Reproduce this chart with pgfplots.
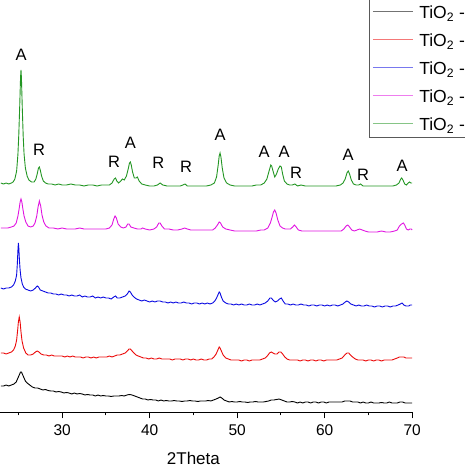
\documentclass[border=0pt]{standalone}
\usepackage{fontspec}
\setmainfont{Liberation Sans}
\usepackage{pgfplots}
\usepackage{pgfplotstable}
\pgfplotsset{compat=1.18}

\definecolor{xrdred}{RGB}{235,10,10}
\definecolor{xrdblue}{RGB}{10,10,225}
\definecolor{xrdmag}{RGB}{225,20,225}
\definecolor{xrdgreen}{RGB}{35,150,35}

% XRD patterns, stacked with a vertical offset (arbitrary intensity units)
\pgfplotstableread[row sep=\\]{x y\\
23.0 26\\ 23.3 26\\ 23.6 27\\ 23.9 26\\ 24.2 27\\ 24.5 28\\ 24.75 30\\ 24.95 34\\ 25.1 37\\ 25.25 40\\ 25.35 40\\ 25.45 38\\ 25.6 35\\ 25.8 31\\ 26.0 29\\ 26.3 27\\ 26.6 25\\ 26.9 24\\ 27.2 24\\ 27.5 23\\ 27.8 22\\ 28.1 22.5\\ 28.4 21.5\\ 28.7 21\\ 29.0 21\\ 29.3 20\\ 29.6 20.5\\ 29.9 20\\ 30.2 19\\ 30.5 19.5\\ 30.8 19\\ 31.1 18\\ 31.4 19\\ 31.7 18\\ 32.0 18.5\\ 32.3 18\\ 32.6 17\\ 32.9 17.5\\ 33.2 17\\ 33.5 17\\ 33.8 16\\ 34.1 17\\ 34.4 16\\ 34.7 16.5\\ 35.0 16\\ 35.3 16\\ 35.6 15.5\\ 35.9 16\\ 36.2 16\\ 36.5 16\\ 36.8 16.5\\ 37.1 16\\ 37.4 17\\ 37.7 17.5\\ 38.0 17\\ 38.3 16\\ 38.6 15\\ 38.9 14\\ 39.2 13\\ 39.5 13\\ 39.8 12\\ 40.1 12.5\\ 40.4 12\\ 40.7 12\\ 41.0 11\\ 41.3 12\\ 41.6 11\\ 41.9 11.5\\ 42.2 11\\ 42.5 11\\ 42.8 11.5\\ 43.1 11\\ 43.4 11\\ 43.7 10.5\\ 44.0 11\\ 44.3 11\\ 44.6 11.5\\ 44.9 11\\ 45.2 11\\ 45.5 10.5\\ 45.8 11\\ 46.1 11\\ 46.4 11\\ 46.7 11.5\\ 47.0 11\\ 47.3 12\\ 47.6 13\\ 47.85 14\\ 48.05 15\\ 48.25 14\\ 48.5 12\\ 48.8 11\\ 49.1 10\\ 49.4 10.5\\ 49.7 10\\ 50.0 10\\ 50.3 10.5\\ 50.6 10\\ 50.9 10\\ 51.2 9.5\\ 51.5 10\\ 51.8 10\\ 52.1 10.5\\ 52.4 10\\ 52.7 10\\ 53.0 10\\ 53.3 10.5\\ 53.6 11\\ 53.9 12\\ 54.2 12\\ 54.5 12.5\\ 54.8 13\\ 55.1 12\\ 55.4 11\\ 55.7 10\\ 56.0 10\\ 56.3 10.5\\ 56.6 10\\ 56.9 9\\ 57.2 10\\ 57.5 9\\ 57.8 10\\ 58.1 10\\ 58.4 9\\ 58.7 10\\ 59.0 10\\ 59.3 9\\ 59.6 10\\ 59.9 10\\ 60.2 9\\ 60.5 10\\ 60.8 10\\ 61.1 10\\ 61.4 10\\ 61.7 10\\ 62.0 10\\ 62.3 11\\ 62.6 11\\ 62.9 11\\ 63.2 10\\ 63.5 10\\ 63.8 10\\ 64.1 9\\ 64.4 10\\ 64.7 9\\ 65.0 9\\ 65.3 10\\ 65.6 9\\ 65.9 9\\ 66.2 9\\ 66.5 9.5\\ 66.8 9\\ 67.1 9\\ 67.4 10\\ 67.7 9\\ 68.0 9\\ 68.3 9\\ 68.6 10\\ 68.9 10\\ 69.2 9\\ 69.5 9\\ 69.8 9\\ 70.0 9\\
}\patA

\pgfplotstableread[row sep=\\]{x y\\
23.0 59\\ 23.3 59\\ 23.6 58\\ 23.9 59\\ 24.2 60\\ 24.45 62\\ 24.65 66\\ 24.8 72\\ 24.92 82\\ 25.0 90\\ 25.1 95\\ 25.2 90\\ 25.3 80\\ 25.42 71\\ 25.6 64\\ 25.85 59\\ 26.1 57\\ 26.4 57\\ 26.7 58\\ 26.95 60\\ 27.15 61\\ 27.35 60\\ 27.6 58\\ 27.9 57\\ 28.2 57\\ 28.5 56\\ 28.8 57\\ 29.1 56\\ 29.4 56\\ 29.7 56\\ 30.0 56\\ 30.3 55\\ 30.6 56\\ 30.9 55\\ 31.2 56\\ 31.5 55\\ 31.8 55\\ 32.1 55\\ 32.4 54\\ 32.7 55\\ 33.0 55\\ 33.3 54\\ 33.6 55\\ 33.9 54\\ 34.2 55\\ 34.5 55\\ 34.8 55\\ 35.1 55\\ 35.4 56\\ 35.7 55\\ 36.0 56\\ 36.3 57\\ 36.6 57\\ 36.9 58\\ 37.2 59\\ 37.45 61\\ 37.65 63\\ 37.8 63\\ 38.0 61\\ 38.2 59\\ 38.45 57\\ 38.7 56\\ 39.0 55\\ 39.3 54\\ 39.6 54\\ 39.9 53\\ 40.2 54\\ 40.5 53\\ 40.8 53\\ 41.1 54\\ 41.4 53\\ 41.7 53\\ 42.0 53\\ 42.3 53\\ 42.6 52\\ 42.9 53\\ 43.2 53\\ 43.5 53\\ 43.8 52\\ 44.1 53\\ 44.4 53\\ 44.7 52\\ 45.0 53\\ 45.3 52\\ 45.6 52\\ 45.9 53\\ 46.2 52\\ 46.5 52\\ 46.8 53\\ 47.1 53\\ 47.35 55\\ 47.6 58\\ 47.8 62\\ 47.95 65\\ 48.05 64\\ 48.2 61\\ 48.4 57\\ 48.7 54\\ 49.0 53\\ 49.3 52\\ 49.6 52\\ 49.9 52\\ 50.2 52\\ 50.5 51\\ 50.8 52\\ 51.1 52\\ 51.4 51\\ 51.7 52\\ 52.0 52\\ 52.3 52\\ 52.6 52\\ 52.9 53\\ 53.2 54\\ 53.45 56\\ 53.7 59\\ 53.9 60\\ 54.1 59\\ 54.3 58\\ 54.55 58\\ 54.8 60\\ 55.0 60\\ 55.2 58\\ 55.45 55\\ 55.7 53\\ 56.0 52\\ 56.3 52\\ 56.6 52\\ 56.9 52\\ 57.2 51\\ 57.5 52\\ 57.8 52\\ 58.1 51\\ 58.4 52\\ 58.7 52\\ 59.0 51\\ 59.3 52\\ 59.6 52\\ 59.9 51\\ 60.2 52\\ 60.5 52\\ 60.8 52\\ 61.1 52\\ 61.4 52\\ 61.7 53\\ 62.0 54\\ 62.3 57\\ 62.55 59\\ 62.75 59\\ 62.95 57\\ 63.2 55\\ 63.5 53\\ 63.8 52\\ 64.1 52\\ 64.4 52\\ 64.7 51\\ 65.0 52\\ 65.3 52\\ 65.6 51\\ 65.9 52\\ 66.2 52\\ 66.5 51\\ 66.8 52\\ 67.1 52\\ 67.4 52\\ 67.7 52\\ 68.0 53\\ 68.3 54\\ 68.55 55\\ 68.8 55\\ 69.05 55\\ 69.3 54\\ 69.6 54\\ 69.8 54\\ 70.0 54\\
}\patB

\pgfplotstableread[row sep=\\]{x y\\
23.0 124\\ 23.3 123\\ 23.6 124\\ 23.9 124\\ 24.2 125\\ 24.45 127\\ 24.65 131\\ 24.8 137\\ 24.88 148\\ 24.95 162\\ 25.0 169\\ 25.05 164\\ 25.12 152\\ 25.2 142\\ 25.3 134\\ 25.45 128\\ 25.6 125\\ 25.8 123\\ 26.1 122\\ 26.4 121\\ 26.7 122\\ 26.95 124\\ 27.15 126\\ 27.3 125\\ 27.5 122\\ 27.8 121\\ 28.1 120\\ 28.4 119\\ 28.7 119\\ 29.0 118\\ 29.3 118\\ 29.6 117\\ 29.9 118\\ 30.2 117\\ 30.5 117\\ 30.8 116\\ 31.1 117\\ 31.4 116\\ 31.7 116\\ 32.0 117\\ 32.3 115\\ 32.6 116\\ 32.9 115\\ 33.2 115\\ 33.5 116\\ 33.8 114\\ 34.1 115\\ 34.4 114\\ 34.7 115\\ 35.0 114\\ 35.3 114\\ 35.6 113\\ 35.9 115\\ 36.1 116\\ 36.3 114\\ 36.6 114\\ 36.9 115\\ 37.2 116\\ 37.45 118\\ 37.65 121\\ 37.8 120\\ 38.0 117\\ 38.2 115\\ 38.5 113\\ 38.8 112\\ 39.1 111\\ 39.4 112\\ 39.7 111\\ 40.0 110\\ 40.3 111\\ 40.6 110\\ 40.9 111\\ 41.2 111\\ 41.5 110\\ 41.8 110\\ 42.1 109\\ 42.4 110\\ 42.7 109\\ 43.0 110\\ 43.3 109\\ 43.6 109\\ 43.9 110\\ 44.2 109\\ 44.5 109\\ 44.8 108\\ 45.1 109\\ 45.4 109\\ 45.7 108\\ 46.0 109\\ 46.3 108\\ 46.6 109\\ 46.9 108\\ 47.2 109\\ 47.45 111\\ 47.65 114\\ 47.85 118\\ 47.95 120\\ 48.05 119\\ 48.2 115\\ 48.4 111\\ 48.7 109\\ 49.0 108\\ 49.3 108\\ 49.6 107\\ 49.9 108\\ 50.2 107\\ 50.5 108\\ 50.8 107\\ 51.1 107\\ 51.4 108\\ 51.7 107\\ 52.0 107\\ 52.3 108\\ 52.6 107\\ 52.9 108\\ 53.2 109\\ 53.5 111\\ 53.75 114\\ 53.9 114\\ 54.1 112\\ 54.35 110\\ 54.6 111\\ 54.85 113\\ 55.05 114\\ 55.25 111\\ 55.5 108\\ 55.8 108\\ 56.1 107\\ 56.4 108\\ 56.7 107\\ 57.0 107\\ 57.3 108\\ 57.6 107\\ 57.9 107\\ 58.2 106\\ 58.5 107\\ 58.8 107\\ 59.1 106\\ 59.4 107\\ 59.7 107\\ 60.0 106\\ 60.3 107\\ 60.6 106\\ 60.9 107\\ 61.2 107\\ 61.5 106\\ 61.8 107\\ 62.1 108\\ 62.35 110\\ 62.55 111\\ 62.75 110\\ 63.0 108\\ 63.3 107\\ 63.6 106\\ 63.9 107\\ 64.2 106\\ 64.5 106\\ 64.8 107\\ 65.1 106\\ 65.4 106\\ 65.7 105\\ 66.0 106\\ 66.3 106\\ 66.6 105\\ 66.9 106\\ 67.2 106\\ 67.5 105\\ 67.8 106\\ 68.1 106\\ 68.4 107\\ 68.65 108\\ 68.85 109\\ 69.05 107\\ 69.3 106\\ 69.6 106\\ 69.8 107\\ 70.0 107\\
}\patC

\pgfplotstableread[row sep=\\]{x y\\
23.0 184\\ 23.4 184\\ 23.8 184\\ 24.2 185\\ 24.5 186\\ 24.75 189\\ 24.95 196\\ 25.1 204\\ 25.2 210\\ 25.3 213\\ 25.4 210\\ 25.5 204\\ 25.65 196\\ 25.85 190\\ 26.1 186\\ 26.4 185\\ 26.7 186\\ 26.9 189\\ 27.1 196\\ 27.25 205\\ 27.4 211\\ 27.55 206\\ 27.7 197\\ 27.9 190\\ 28.15 186\\ 28.5 184\\ 29.0 184\\ 29.5 183\\ 30.0 184\\ 30.5 183\\ 31.0 183\\ 31.5 183\\ 32.0 184\\ 32.5 183\\ 33.0 183\\ 33.5 183\\ 34.0 183\\ 34.5 183\\ 35.0 183\\ 35.4 184\\ 35.7 187\\ 35.9 193\\ 36.05 196\\ 36.2 194\\ 36.4 188\\ 36.7 185\\ 37.0 184\\ 37.3 185\\ 37.5 188\\ 37.65 188\\ 37.85 185\\ 38.2 184\\ 38.6 183\\ 39.0 183\\ 39.2 184\\ 39.5 183\\ 40.0 182\\ 40.5 183\\ 40.8 185\\ 41.05 189\\ 41.2 189\\ 41.4 186\\ 41.7 183\\ 42.2 183\\ 42.7 182\\ 43.2 182\\ 43.7 183\\ 44.0 184\\ 44.3 183\\ 44.7 182\\ 45.2 182\\ 45.7 182\\ 46.2 182\\ 46.7 182\\ 47.2 182\\ 47.5 184\\ 47.75 187\\ 47.95 190\\ 48.1 189\\ 48.35 185\\ 48.7 183\\ 49.2 182\\ 49.7 181\\ 50.2 181\\ 50.7 181\\ 51.2 181\\ 51.7 181\\ 52.2 181\\ 52.7 182\\ 53.1 182\\ 53.5 184\\ 53.8 189\\ 54.0 195\\ 54.15 200\\ 54.3 202\\ 54.45 199\\ 54.65 192\\ 54.9 186\\ 55.2 184\\ 55.5 183\\ 55.8 183\\ 56.1 183\\ 56.35 185\\ 56.55 187\\ 56.75 185\\ 57.0 182\\ 57.4 181\\ 57.9 181\\ 58.4 181\\ 58.9 181\\ 59.4 181\\ 59.9 181\\ 60.4 181\\ 60.9 181\\ 61.4 181\\ 61.9 181\\ 62.2 183\\ 62.45 186\\ 62.65 187\\ 62.85 185\\ 63.1 182\\ 63.4 181\\ 63.7 182\\ 64.0 183\\ 64.3 182\\ 64.6 181\\ 65.0 180\\ 65.5 180\\ 66.0 180\\ 66.5 181\\ 67.0 180\\ 67.5 180\\ 68.0 181\\ 68.3 182\\ 68.55 186\\ 68.8 188\\ 69.0 189\\ 69.15 187\\ 69.35 183\\ 69.55 182\\ 69.75 183\\ 69.9 183\\ 70.0 182\\
}\patD

\pgfplotstableread[row sep=\\]{x y\\
23.0 229\\ 23.3 228\\ 23.6 229\\ 23.9 228\\ 24.2 229\\ 24.4 230\\ 24.6 233\\ 24.8 241\\ 24.95 258\\ 25.05 278\\ 25.15 305\\ 25.25 335\\ 25.3 342\\ 25.35 334\\ 25.45 303\\ 25.55 276\\ 25.65 258\\ 25.8 244\\ 26.0 236\\ 26.2 232\\ 26.5 230\\ 26.8 230\\ 27.0 233\\ 27.15 238\\ 27.3 244\\ 27.4 245\\ 27.5 242\\ 27.65 236\\ 27.85 231\\ 28.1 229\\ 28.4 228\\ 28.8 228\\ 29.2 227\\ 29.6 228\\ 30.0 227\\ 30.5 227\\ 31.0 228\\ 31.5 227\\ 32.0 227\\ 32.5 226\\ 33.0 227\\ 33.5 227\\ 34.0 226\\ 34.5 227\\ 35.0 227\\ 35.4 227\\ 35.7 229\\ 35.95 233\\ 36.1 234\\ 36.25 231\\ 36.45 229\\ 36.7 231\\ 36.9 233\\ 37.1 232\\ 37.35 236\\ 37.55 243\\ 37.7 249\\ 37.8 250\\ 37.9 247\\ 38.05 240\\ 38.25 234\\ 38.45 234\\ 38.6 235\\ 38.8 231\\ 39.1 228\\ 39.5 227\\ 40.0 226\\ 40.5 226\\ 40.9 227\\ 41.2 229\\ 41.5 227\\ 42.0 226\\ 42.5 226\\ 43.0 226\\ 43.5 226\\ 43.8 227\\ 44.05 228\\ 44.3 226\\ 45.0 226\\ 45.5 226\\ 46.0 226\\ 46.5 226\\ 47.0 227\\ 47.4 229\\ 47.65 235\\ 47.85 248\\ 47.95 256\\ 48.05 259\\ 48.15 255\\ 48.3 244\\ 48.5 234\\ 48.8 229\\ 49.2 227\\ 49.7 226\\ 50.2 226\\ 50.7 226\\ 51.2 226\\ 51.7 226\\ 52.2 227\\ 52.7 227\\ 53.1 229\\ 53.4 233\\ 53.65 241\\ 53.85 247\\ 53.95 246\\ 54.1 241\\ 54.3 235\\ 54.5 238\\ 54.7 243\\ 54.9 246\\ 55.05 245\\ 55.2 238\\ 55.4 231\\ 55.7 228\\ 56.0 227\\ 56.3 227\\ 56.6 228\\ 56.9 226\\ 57.3 227\\ 57.8 226\\ 58.3 226\\ 58.8 226\\ 59.3 226\\ 59.8 226\\ 60.3 226\\ 60.8 226\\ 61.3 226\\ 61.8 227\\ 62.1 229\\ 62.35 233\\ 62.55 239\\ 62.7 241\\ 62.85 238\\ 63.05 232\\ 63.3 228\\ 63.6 227\\ 63.9 227\\ 64.1 228\\ 64.4 226\\ 64.8 226\\ 65.3 226\\ 65.8 226\\ 66.3 226\\ 66.8 226\\ 67.3 226\\ 67.8 226\\ 68.2 227\\ 68.5 229\\ 68.7 233\\ 68.8 234\\ 68.95 232\\ 69.15 228\\ 69.35 227\\ 69.55 229\\ 69.7 230\\ 69.85 229\\ 70.0 229\\
}\patE

\begin{document}
\begin{tikzpicture}[x=1pt,y=1pt]
\path[use as bounding box] (0,0) rectangle (465,465);
\clip (0,0) rectangle (465,465);
\begin{axis}[
  at={(-29,53)}, anchor=south west,
  scale only axis, width=437.5pt, height=430pt,
  xmin=20, xmax=70, ymin=0, ymax=430,
  axis x line*=bottom, axis y line*=left,
  axis line style={-, line width=0.8pt},
  xtick={30,40,...,70}, minor xtick={25,35,...,65}, ytick=\empty,
  tick align=outside, major tick length=6.5pt, minor tick length=3.5pt,
  every tick/.style={black, line width=0.8pt},
  /pgf/number format/assume math mode=true,
  xticklabel style={font=\fontsize{15.5}{18}\selectfont, yshift=-3pt},
  xlabel={2Theta},
  xlabel style={font=\fontsize{17}{20}\selectfont, inner sep=0pt, at={(axis description cs:0.5,0)}, anchor=center, yshift=-46pt},
  clip=false,
  legend cell align=left,
  legend image code/.code={\draw[#1, line width=1pt, draw opacity=0.55] (0pt,0pt) -- (40pt,0pt);},
  legend style={at={(axis description cs:0.9014,0.6372)}, anchor=south west,
    inner xsep=3pt, inner ysep=3pt,
    font=\fontsize{17.5}{20}\selectfont, row sep=6pt, column sep=2pt,
    nodes={inner xsep=4pt, inner ysep=2pt, text height=16pt, text depth=2pt},
    /tikz/every matrix/.append style={draw=black!65, line width=0.6pt}},
  every axis plot/.append style={line width=0.9pt},
]
\addplot[color=black] table {\patA};
\addplot[color=xrdred] table {\patB};
\addplot[color=xrdblue] table {\patC};
\addplot[color=xrdmag] table {\patD};
\addplot[color=xrdgreen] table {\patE};
\legend{TiO\textsubscript{2} - 1, TiO\textsubscript{2} - 2, TiO\textsubscript{2} - 3, TiO\textsubscript{2} - 4, TiO\textsubscript{2} - 5}

% phase labels: A = anatase, R = rutile
\begin{scope}[every node/.style={font=\fontsize{16.5}{19}\selectfont, anchor=center, inner sep=0pt}]
\node at (axis cs:25.31,357) {A};
\node at (axis cs:27.37,262) {R};
\node at (axis cs:35.94,250) {R};
\node at (axis cs:37.8,269) {A};
\node at (axis cs:41.0,249) {R};
\node at (axis cs:44.17,245) {R};
\node at (axis cs:48.06,277) {A};
\node at (axis cs:53.09,260) {A};
\node at (axis cs:55.37,260) {A};
\node at (axis cs:56.74,239) {R};
\node at (axis cs:62.69,257) {A};
\node at (axis cs:64.4,237) {R};
\node at (axis cs:68.86,246) {A};
\end{scope}
\end{axis}
\end{tikzpicture}
\end{document}
